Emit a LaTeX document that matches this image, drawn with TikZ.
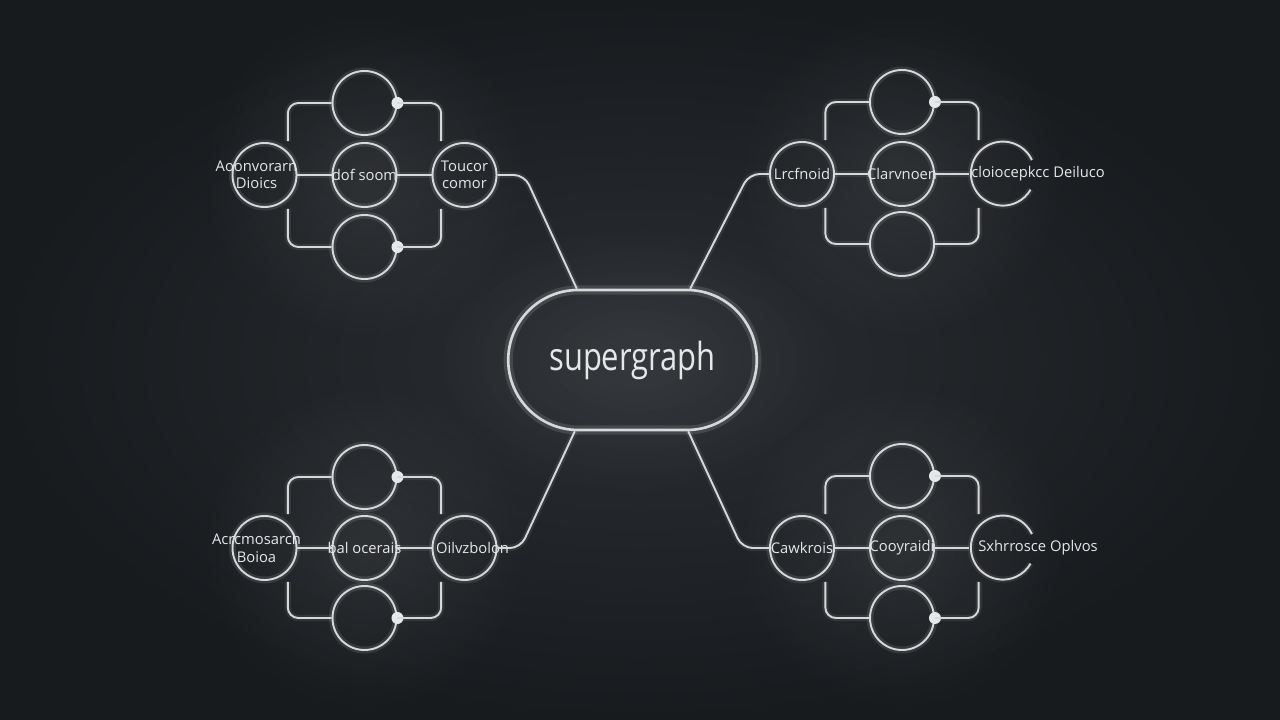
\documentclass[tikz,border=0pt]{standalone}
\usepackage{fontspec}
\setmainfont{Open Sans}
\newfontfamily\hubfont{Open Sans}[FakeStretch=0.8]
\usepackage{tikz}
\usetikzlibrary{positioning,shapes.misc,fadings,backgrounds}

\definecolor{bgdark}{HTML}{181B1E}
\definecolor{bglight}{HTML}{2A2E32}
\definecolor{wire}{HTML}{D6D8DA}
\definecolor{ink}{HTML}{E6E7E8}
\tikzfading[name=softglow, inner color=transparent!0, outer color=transparent!100]

\begin{document}
\begin{tikzpicture}[wire, line width=0.55pt,
node distance=1cm]
\tikzstyle{ring}=[circle, draw, minimum size=0.64cm, inner sep=0pt,
 preaction={draw=white, draw opacity=0.1, line width=2pt}]
\tikzstyle{halfring}=[circle, minimum size=0.64cm, inner sep=0pt]
\tikzstyle{knob}=[circle, fill=ink, draw=none, minimum size=0.12cm, inner sep=0pt]
\tikzstyle{tag}=[text=ink, font=\fontsize{4.2}{5}\selectfont, align=center, inner sep=0pt]
\tikzstyle{link}=[rounded corners=3pt,
 preaction={draw=white, draw opacity=0.08, line width=1.8pt}]

\useasboundingbox (0,0) rectangle (12.8,-7.2);

%hub
\node[rounded rectangle, draw, minimum width=2.72cm, minimum height=1.40cm,
 line width=0.75pt, text=ink, font=\hubfont\fontsize{11}{13}\selectfont,
 preaction={draw=white, draw opacity=0.12, line width=2.6pt}]
(S) at (6.325,-3.6) {supergraph};

%top left
\node[ring, label={[tag]center:dof soom}] (A3) at (3.645,-1.75) {};
\node[ring, label={[tag, shift={(-0.08,0)}]center:Aoonvorarn\\Dioics}] (A1) [left of=A3] {};
\node[ring, label={[tag]center:Toucor\\comor}] (A2) [right of=A3] {};
\node[ring] (A0) [node distance=0.72cm, above of=A3] {};
\node[ring] (A4) [node distance=0.72cm, below of=A3] {};
\node[knob] (A0k) at (A0.east) {};
\node[knob] (A4k) at (A4.east) {};

\draw[link, shorten <=3pt] (A1.north east) |- (A0.west);
\draw[link, shorten >=3pt] (A0.east) -| (A2.north west);
\draw[link, shorten <=3pt] (A1.south east) |- (A4.west);
\draw[link, shorten >=3pt] (A4.east) -| (A2.south west);
\draw[link] (A1) -- (A3) (A3) -- (A2);
\draw[link] (A2.east) -- ++(0.27,0) -- (S.128);

%top right
\node[ring, label={[tag]center:Clarvnoen}] (B3) at (9.02,-1.74) {};
\node[ring, label={[tag]center:Lrcfnoid}] (B1) [left of=B3] {};
\node[halfring, label={[tag, shift={(0.36,0)}]center:cloiocepkcc Deiluco}] (B2) [right of=B3] {};
\node[ring] (B0) [node distance=0.72cm, above of=B3] {};
\node[ring] (B4) [node distance=0.70cm, below of=B3] {};
\node[knob] (B0k) at (B0.east) {};

\draw[link] (B2.25) arc[start angle=25, end angle=330, radius=0.32cm];
\draw[link, shorten <=3pt] (B1.north east) |- (B0.west);
\draw[link, shorten >=3pt] (B0.east) -| (B2.north west);
\draw[link, shorten <=3pt] (B1.south east) |- (B4.west);
\draw[link, shorten >=3pt] (B4.east) -| (B2.south west);
\draw[link] (B1) -- (B3) (B3) -- (B2.west);
\draw[link] (B1.west) -- ++(-0.2,0) -- (S.51);

%bottom left
\node[ring, label={[tag]center:bal ocerais}] (C3) at (3.645,-5.48) {};
\node[ring, label={[tag, shift={(-0.08,0)}]center:Acrcmosarch\\Boioa}] (C1) [left of=C3] {};
\node[ring, label={[tag, shift={(0.08,0)}]center:Oilvzbolon}] (C2) [right of=C3] {};
\node[ring] (C0) [node distance=0.71cm, above of=C3] {};
\node[ring] (C4) [node distance=0.70cm, below of=C3] {};
\node[knob] (C0k) at (C0.east) {};
\node[knob] (C4k) at (C4.east) {};

\draw[link, shorten <=3pt] (C1.north east) |- (C0.west);
\draw[link, shorten >=3pt] (C0.east) -| (C2.north west);
\draw[link, shorten <=3pt] (C1.south east) |- (C4.west);
\draw[link, shorten >=3pt] (C4.east) -| (C2.south west);
\draw[link] (C1) -- (C3) (C3) -- (C2);
\draw[link] (C2.east) -- ++(0.23,0) -- (S.231);

%bottom right
\node[ring, label={[tag]center:Cooyraidi}] (D3) at (9.02,-5.48) {};
\node[ring, label={[tag]center:Cawkrois}] (D1) [left of=D3] {};
\node[halfring, label={[tag, shift={(0.36,0)}]center:Sxhrrosce Oplvos}] (D2) [right of=D3] {};
\node[ring] (D0) [node distance=0.72cm, above of=D3] {};
\node[ring] (D4) [node distance=0.70cm, below of=D3] {};
\node[knob] (D0k) at (D0.east) {};
\node[knob] (D4k) at (D4.east) {};

\draw[link] (D2.25) arc[start angle=25, end angle=330, radius=0.32cm];
\draw[link, shorten <=3pt] (D1.north east) |- (D0.west);
\draw[link, shorten >=3pt] (D0.east) -| (D2.north west);
\draw[link, shorten <=3pt] (D1.south east) |- (D4.west);
\draw[link, shorten >=3pt] (D4.east) -| (D2.south west);
\draw[link] (D1) -- (D3) (D3) -- (D2.west);
\draw[link] (D1.west) -- ++(-0.27,0) -- (S.308);

\begin{pgfonlayer}{background}
\shade[inner color=bglight, outer color=bgdark] (0,0) rectangle (12.8,-7.2);
\fill[white, path fading=softglow, fill opacity=0.07] (A3) circle (1.7cm);
\fill[white, path fading=softglow, fill opacity=0.07] (B3) circle (1.7cm);
\fill[white, path fading=softglow, fill opacity=0.07] (C3) circle (1.7cm);
\fill[white, path fading=softglow, fill opacity=0.07] (D3) circle (1.7cm);
\fill[white, path fading=softglow, fill opacity=0.06] (S) ellipse (2.1cm and 1.4cm);
\end{pgfonlayer}
\end{tikzpicture}
\end{document}
